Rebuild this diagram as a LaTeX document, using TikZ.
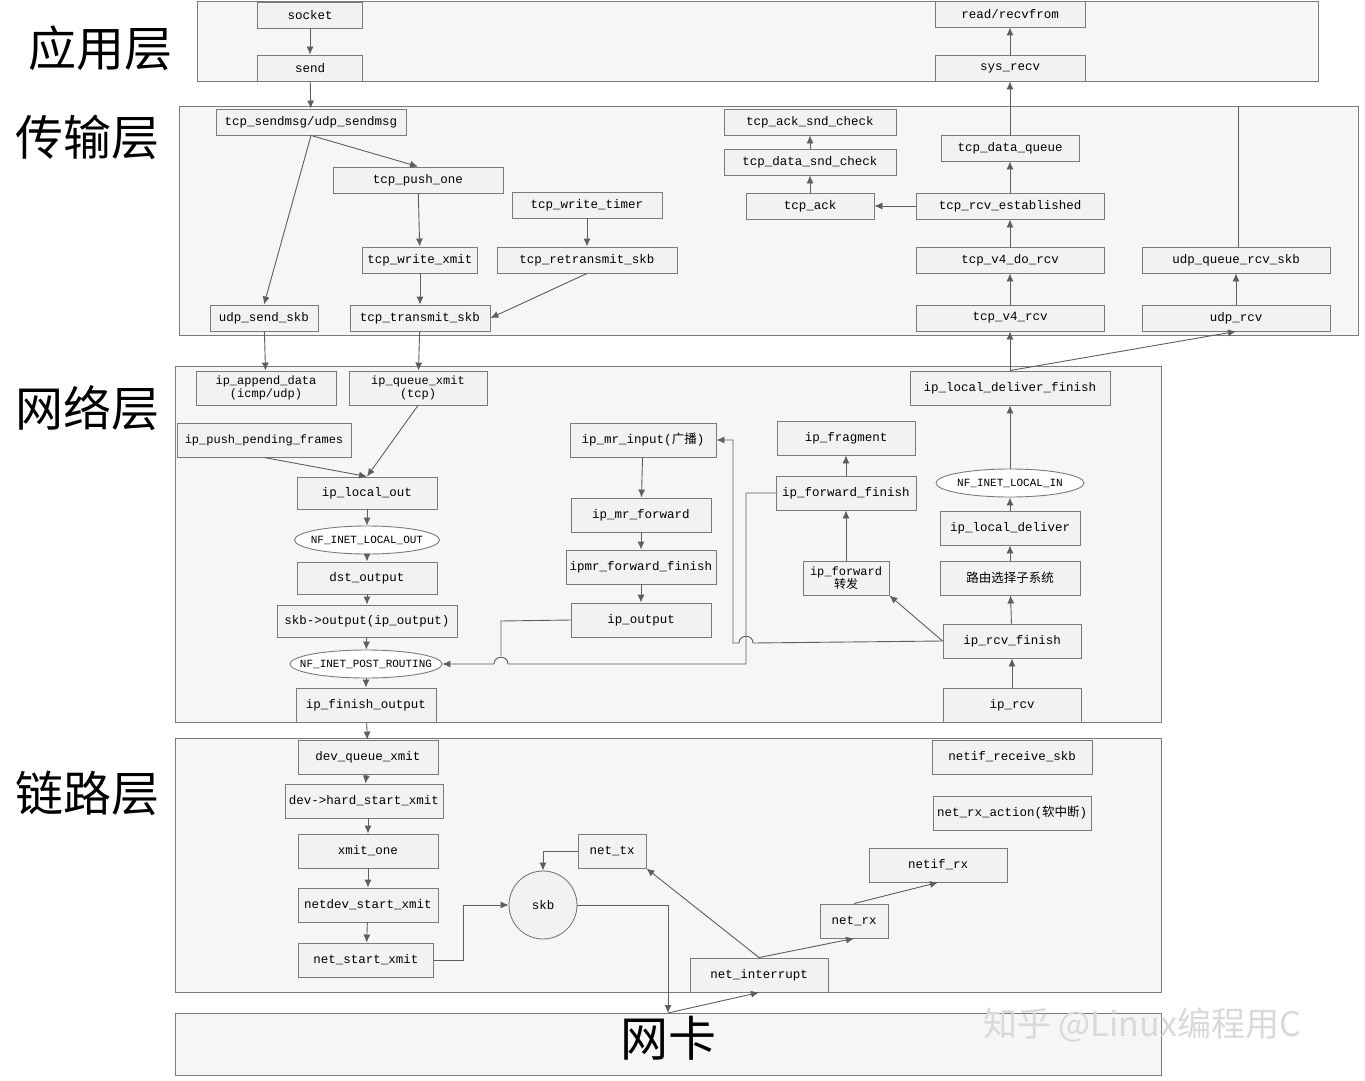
\documentclass[tikz,border=0pt]{standalone}
\usepackage{fontspec}
\setmainfont{Liberation Mono}
\newfontfamily\cjk{Noto Sans CJK SC}
\usetikzlibrary{arrows.meta,shapes.geometric}
\definecolor{boxfill}{HTML}{F2F2F2}
\definecolor{layfill}{HTML}{F6F6F6}
\definecolor{ln}{HTML}{5E5E5E}
\definecolor{bd}{HTML}{7A7A7A}
\begin{document}
\begin{tikzpicture}[x=1pt,y=-1pt,
  box/.style={draw=bd,fill=boxfill,minimum height=26pt,inner sep=1pt,font=\fontsize{12.5}{13}\selectfont,align=center,line width=0.9pt},
  ell/.style={ellipse,draw=bd,fill=white,minimum height=28pt,inner ysep=0pt,inner xsep=-14pt,font=\fontsize{11}{13}\selectfont,line width=0.9pt},
  layer/.style={draw=bd,fill=layfill,line width=1pt},
  lab/.style={font=\cjk\fontsize{48}{50}\selectfont},
  ar/.style={draw=ln,line width=0.9pt,-{Latex[length=8pt,width=7pt]}},
  pl/.style={draw=ln,line width=0.9pt}]
\useasboundingbox (0,0) rectangle (1365,1081);
\fill[white] (0,0) rectangle (1365,1081);
% layers
\draw[layer] (197,2) rectangle (1318,81);
\draw[layer] (179,106) rectangle (1358,335);
\draw[layer] (175,366) rectangle (1161,722);
\draw[layer] (175,738) rectangle (1161,992);
\draw[layer] (175,1013) rectangle (1161,1075);
\node[lab] (l1) at (100,48) {应用层};
\node[lab] (l2) at (88,137) {传输层};
\node[lab] (l3) at (88,408) {网络层};
\node[lab] (l4) at (88,793) {链路层};
\node[lab] (l5) at (668,1038) {网卡};
\node[font=\cjk\fontsize{34}{36}\selectfont,text=black!15] (wm) at (1142,1025) {知乎 @Linux编程用C};
% app
\node[box,minimum width=105pt] (socket) at (310,15) {socket};
\node[box,minimum width=105pt] (send) at (310,68) {send};
\node[box,minimum width=150pt] (read) at (1010,14) {read/recvfrom};
\node[box,minimum width=150pt] (sysrecv) at (1010,68) {sys\_recv};
% transport
\node[box,minimum width=190pt] (sendmsg) at (311,122) {tcp\_sendmsg/udp\_sendmsg};
\node[box,minimum width=170pt] (pushone) at (418,180) {tcp\_push\_one};
\node[box,minimum width=150pt] (wtimer) at (587,205) {tcp\_write\_timer};
\node[box,minimum width=115pt] (wxmit) at (420,260) {tcp\_write\_xmit};
\node[box,minimum width=180pt] (retx) at (587,260) {tcp\_retransmit\_skb};
\node[box,minimum width=108pt] (udpsend) at (264,318) {udp\_send\_skb};
\node[box,minimum width=140pt] (tskb) at (420,318) {tcp\_transmit\_skb};
\node[box,minimum width=172pt] (acksnd) at (810,122) {tcp\_ack\_snd\_check};
\node[box,minimum width=172pt] (datasnd) at (810,162) {tcp\_data\_snd\_check};
\node[box,minimum width=128pt] (tack) at (810,206) {tcp\_ack};
\node[box,minimum width=138pt] (dq) at (1010,148) {tcp\_data\_queue};
\node[box,minimum width=188pt] (est) at (1010,206) {tcp\_rcv\_established};
\node[box,minimum width=188pt] (dorcv) at (1010,260) {tcp\_v4\_do\_rcv};
\node[box,minimum width=188pt] (v4rcv) at (1010,318) {tcp\_v4\_rcv};
\node[box,minimum width=188pt] (uqrs) at (1236,260) {udp\_queue\_rcv\_skb};
\node[box,minimum width=188pt] (udprcv) at (1236,318) {udp\_rcv};
% network
\node[box,minimum width=140pt,minimum height=34pt,font=\fontsize{12}{12.5}\selectfont] (append) at (266,388) {ip\_append\_data\\(icmp/udp)};
\node[box,minimum width=138pt,minimum height=34pt,font=\fontsize{12}{12.5}\selectfont] (qxmit) at (418,388) {ip\_queue\_xmit\\(tcp)};
\node[box,minimum width=174pt,minimum height=34pt,font=\fontsize{12}{13}\selectfont] (pushpf) at (264,440) {ip\_push\_pending\_frames};
\node[box,minimum width=140pt,minimum height=32pt] (lout) at (367,493) {ip\_local\_out};
\node[ell,minimum width=145pt] (nfout) at (367,540) {NF\_INET\_LOCAL\_OUT};
\node[box,minimum width=140pt,minimum height=32pt] (dsto) at (367,578) {dst\_output};
\node[box,minimum width=180pt,minimum height=32pt] (skbout) at (367,621) {skb->output(ip\_output)};
\node[ell,minimum width=152pt] (nfpost) at (366,664) {NF\_INET\_POST\_ROUTING};
\node[box,minimum width=140pt,minimum height=34pt] (fout) at (366,705) {ip\_finish\_output};
\node[box,minimum width=146pt,minimum height=34pt] (mrin) at (643,440) {ip\_mr\_input({\cjk 广播})};
\node[box,minimum width=140pt,minimum height=34pt] (mrfw) at (641,515) {ip\_mr\_forward};
\node[box,minimum width=150pt,minimum height=34pt] (ipmrff) at (641,567) {ipmr\_forward\_finish};
\node[box,minimum width=140pt,minimum height=34pt] (ipout) at (641,620) {ip\_output};
\node[box,minimum width=138pt,minimum height=34pt] (frag) at (846,438) {ip\_fragment};
\node[box,minimum width=140pt,minimum height=34pt] (fwf) at (846,493) {ip\_forward\_finish};
\node[box,minimum width=86pt,minimum height=34pt,font=\fontsize{12}{12.5}\selectfont] (fw) at (846,578) {ip\_forward\\{\cjk 转发}};
\node[box,minimum width=200pt,minimum height=34pt] (ldf) at (1010,388) {ip\_local\_deliver\_finish};
\node[ell,minimum width=148pt] (nfin) at (1010,483) {NF\_INET\_LOCAL\_IN};
\node[box,minimum width=140pt,minimum height=34pt] (ldel) at (1010,528) {ip\_local\_deliver};
\node[box,minimum width=140pt,minimum height=34pt] (route) at (1010,578) {{\cjk 路由选择子系统}};
\node[box,minimum width=138pt,minimum height=34pt] (rcvf) at (1012,641) {ip\_rcv\_finish};
\node[box,minimum width=138pt,minimum height=34pt] (iprcv) at (1012,705) {ip\_rcv};
% link
\node[box,minimum width=140pt,minimum height=34pt] (dqx) at (368,757) {dev\_queue\_xmit};
\node[box,minimum width=158pt,minimum height=34pt] (hsx) at (364,801) {dev->hard\_start\_xmit};
\node[box,minimum width=140pt,minimum height=34pt] (xone) at (368,851) {xmit\_one};
\node[box,minimum width=140pt,minimum height=34pt] (ndsx) at (368,905) {netdev\_start\_xmit};
\node[box,minimum width=135pt,minimum height=34pt] (nsx) at (366,960) {net\_start\_xmit};
\node[circle,draw=bd,fill=boxfill,line width=0.9pt,minimum size=68pt,font=\fontsize{12.5}{13}\selectfont] (skb) at (543,905) {skb};
\node[box,minimum width=68pt,minimum height=34pt] (ntx) at (612,851) {net\_tx};
\node[box,minimum width=138pt,minimum height=34pt] (nint) at (759,975) {net\_interrupt};
\node[box,minimum width=68pt,minimum height=34pt] (nrx) at (854,921) {net\_rx};
\node[box,minimum width=138pt,minimum height=34pt] (nifrx) at (938,865) {netif\_rx};
\node[box,minimum width=158pt,minimum height=34pt] (nra) at (1012,813) {net\_rx\_action({\cjk 软中断})};
\node[box,minimum width=160pt,minimum height=34pt] (nrs) at (1012,757) {netif\_receive\_skb};
\coordinate (nic) at (668,1013);
\coordinate (udptop) at (1238,106);
% connectors
\draw[ar] (socket) -- (send);
\draw[ar] (send) -- (sendmsg);
\draw[ar] (sendmsg.south) -- (pushone.north);
\draw[ar] (sendmsg.south) -- (udpsend.north);
\draw[ar] (pushone) -- (wxmit);
\draw[ar] (wtimer) -- (retx);
\draw[ar] (wxmit) -- (tskb);
\draw[ar] (retx.south) -- (tskb.east);
\draw[ar] (udpsend) -- (append);
\draw[ar] (tskb) -- (qxmit);
\draw[ar] (pushpf.south) -- (lout.north);
\draw[ar] (qxmit.south) -- (lout.north);
\draw[ar] (lout) -- (nfout);
\draw[ar] (nfout) -- (dsto);
\draw[ar] (dsto) -- (skbout);
\draw[ar] (skbout) -- (nfpost);
\draw[ar] (nfpost) -- (fout);
\draw[ar] (fout) -- (dqx);
\draw[ar] (dqx) -- (hsx);
\draw[ar] (hsx.south -| xone) -- (xone);
\draw[ar] (xone) -- (ndsx);
\draw[ar] (ndsx) -- (nsx);
\draw[ar] (nsx.east) -- (463,960) -- (463,905) -- (skb.west);
\draw[ar] (ntx.west) -- (543,851) -- (skb.north);
\draw[ar] (skb.east) -- (668,905) -- (nic);
\draw[ar] (nic) -- (nint.south);
\draw[ar] (nint.north) -- (ntx.south east);
\draw[ar] (nint.north) -- (nrx.south);
\draw[ar] (nrx.north) -- (nifrx.south);
% receive path
\draw[ar] (iprcv) -- (rcvf);
\draw[ar] (rcvf) -- (route);
\draw[ar] (route) -- (ldel);
\draw[ar] (ldel) -- (nfin);
\draw[ar] (nfin) -- (ldf);
\draw[ar] (ldf.north) -- (v4rcv.south);
\draw[ar] (ldf.north) -- (udprcv.south);
\draw[ar] (v4rcv) -- (dorcv);
\draw[ar] (dorcv) -- (est);
\draw[ar] (est) -- (dq);
\draw[ar] (dq) -- (sysrecv);
\draw[ar] (sysrecv) -- (read);
\draw[ar] (est) -- (tack);
\draw[ar] (tack) -- (datasnd);
\draw[ar] (datasnd) -- (acksnd);
\draw[ar] (udprcv) -- (uqrs);
\draw[pl] (uqrs.north -| udptop) -- (udptop);
% forward
\draw[ar] (rcvf.west) -- (fw.south east);
\draw[ar] (fw) -- (fwf);
\draw[ar] (fwf) -- (frag);
\draw[ar] (fwf.west) -- (746,493) -- (746,664) -- (508,664) .. controls (508,655) and (494,655) .. (494,664) -- (nfpost.east);
\draw[ar] (rcvf.west) -- (753,643) .. controls (753,634) and (739,634) .. (739,643) -- (733,643) -- (733,440) -- (mrin.east);
\draw[ar] (mrin) -- (mrfw);
\draw[ar] (mrfw) -- (ipmrff);
\draw[ar] (ipmrff) -- (ipout);
\draw[pl] (ipout.west) -- (501,621) -- (501,656);
\end{tikzpicture}
\end{document}
